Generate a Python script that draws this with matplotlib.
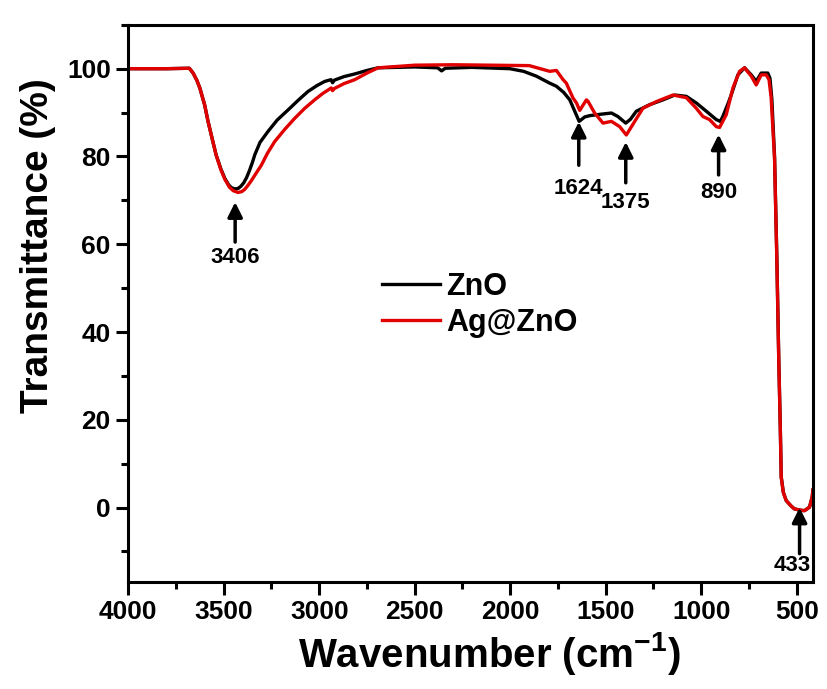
import matplotlib
matplotlib.use("Agg")
import matplotlib.pyplot as plt
from matplotlib.ticker import MultipleLocator

plt.rcParams['font.family'] = ['Liberation Sans', 'DejaVu Sans']
plt.rcParams['font.weight'] = 'bold'
plt.rcParams['mathtext.fontset'] = 'custom'
plt.rcParams['mathtext.rm'] = 'Liberation Sans:bold'
plt.rcParams['mathtext.bf'] = 'Liberation Sans:bold'

# ZnO spectrum (wavenumber, transmittance)
zno_wn = [4000, 3800, 3680, 3660, 3640, 3625, 3600, 3582, 3560, 3540, 3515, 3494,
          3475, 3460, 3442, 3425, 3410, 3395, 3380, 3365, 3350, 3337, 3310, 3268,
          3220, 3163, 3110, 3059, 3010, 2971, 2938, 2930, 2920, 2870, 2814, 2750,
          2692, 2500, 2380, 2359, 2340, 2200, 2002, 1930, 1863, 1793, 1758, 1720,
          1688, 1662, 1639, 1610, 1584, 1531, 1470, 1436, 1395, 1370, 1340, 1270,
          1200, 1139, 1078, 1026, 973, 921, 900, 887, 860, 843, 808, 773, 738,
          712, 686, 651, 640, 630, 616, 604, 594, 586, 581, 570, 555, 530, 512,
          480, 459, 433, 419, 415]
zno_t = [100.0, 100.0, 100.1, 99.0, 97.3, 95.6, 91.8, 88.0, 84.0, 80.4, 77.2, 75.0,
         73.6, 72.9, 72.6, 72.7, 73.2, 74.0, 75.2, 76.8, 78.6, 80.4, 83.2, 85.7,
         88.3, 90.6, 92.8, 94.8, 96.2, 97.1, 97.5, 96.8, 97.4, 98.2, 98.8, 99.6,
         100.2, 100.4, 100.2, 99.5, 100.1, 100.3, 100.0, 99.4, 98.3, 96.7, 96.0, 94.6,
         92.9, 90.3, 88.0, 89.0, 89.3, 89.6, 89.9, 89.1, 87.6, 88.5, 90.3, 91.8,
         92.9, 94.0, 93.7, 92.2, 90.3, 88.4, 88.0, 89.1, 92.0, 94.0, 98.6, 100.2, 98.6,
         97.1, 99.0, 99.0, 97.8, 93.0, 80.0, 57.0, 34.0, 18.5, 7.0, 3.5, 1.6, 0.4, -0.3,
         -0.6, -0.7, 0.1, 2.4, 4.0]

# Ag@ZnO spectrum
ag_wn = [4000, 3800, 3680, 3660, 3640, 3625, 3600, 3582, 3560, 3540, 3515, 3494,
         3470, 3450, 3425, 3405, 3390, 3375, 3355, 3330, 3303, 3270, 3233, 3180,
         3128, 3075, 3024, 2980, 2937, 2930, 2920, 2870, 2814, 2750, 2692, 2500,
         2300, 2100, 1900, 1793, 1758, 1723, 1706, 1671, 1653, 1636, 1601, 1593,
         1558, 1514, 1470, 1427, 1392, 1348, 1305, 1235, 1148, 1078, 1026,
         991, 956, 921, 904, 869, 834, 799, 773, 738, 712, 686, 660, 645, 634,
         616, 604, 594, 586, 581, 570, 555, 530, 512, 480, 459, 433, 419, 415]
ag_t = [100.0, 100.0, 100.1, 99.0, 97.3, 95.6, 91.8, 88.0, 84.0, 80.4, 77.0, 74.8,
        73.0, 72.2, 71.8, 72.0, 72.5, 73.3, 74.5, 76.2, 78.0, 80.8, 83.4, 86.2,
        88.7, 91.0, 92.9, 94.4, 95.6, 95.0, 95.5, 96.6, 97.5, 99.0, 100.2, 100.8,
        100.9, 100.8, 100.7, 99.4, 99.6, 97.5, 96.7, 93.3, 92.2, 90.5, 92.9, 92.6,
        89.9, 87.6, 88.0, 86.8, 84.9, 88.0, 91.0, 92.5, 94.0, 93.4, 91.0,
        89.1, 88.4, 86.8, 86.6, 89.5, 95.6, 99.4, 100.2, 98.3, 96.3, 98.6, 98.6, 97.5, 93.5,
        79.5, 56.4, 33.6, 18.3, 6.9, 3.4, 1.6, 0.4, -0.3, -0.6, -0.7, 0.1, 2.4, 4.0]

# peak markers: label, arrow x, arrow head y, arrow tail y, label x, label y
peak_labels = ['3406', '1624', '1375', '890', '433']
peak_x = [3440, 1641, 1395, 909, 485]
peak_head = [69.6, 87.9, 83.3, 85.0, 0.0]
peak_tail = [60.5, 78.0, 74.0, 75.8, -10.5]
label_x = [3440, 1641, 1395, 909, 522]
label_y = [57.0, 72.8, 69.4, 71.7, -13.2]

fig = plt.figure(figsize=(8.27, 6.89), dpi=100)
ax = fig.add_axes([0.155, 0.155, 0.828, 0.809])

ax.plot(zno_wn, zno_t, color='black', lw=2.4, label='ZnO')
ax.plot(ag_wn, ag_t, color='#e00000', lw=2.4, label='Ag@ZnO')

for lab, px, hy, ty, lx, ly in zip(peak_labels, peak_x, peak_head, peak_tail, label_x, label_y):
    ax.annotate('', xy=(px, hy), xytext=(px, ty),
                arrowprops=dict(arrowstyle='-|>', lw=2.5, color='black', mutation_scale=22,
                                shrinkA=0, shrinkB=0))
    ax.text(lx, ly, lab, ha='center', va='center', fontsize=16, fontweight='bold')

ax.set_xlim(4000, 415)
ax.set_ylim(-17, 110)
ax.xaxis.set_major_locator(MultipleLocator(500))
ax.xaxis.set_minor_locator(MultipleLocator(250))
ax.yaxis.set_major_locator(MultipleLocator(20))
ax.yaxis.set_minor_locator(MultipleLocator(10))
ax.tick_params(which='major', direction='out', length=9, width=2.2, labelsize=19)
ax.tick_params(which='minor', direction='out', length=5, width=2.2)
for lbl in ax.get_xticklabels() + ax.get_yticklabels():
    lbl.set_fontweight('bold')
for sp in ax.spines.values():
    sp.set_linewidth(2.2)

ax.set_xlabel('Wavenumber (cm$^{\\mathrm{-1}}$)', fontsize=29, fontweight='bold')
ax.set_ylabel('Transmittance (%)', fontsize=28, fontweight='bold')
ax.xaxis.set_label_coords(0.528, -0.085)
ax.yaxis.set_label_coords(-0.105, 0.603)

leg = ax.legend(loc='upper left', bbox_to_anchor=(0.371, 0.557), frameon=False,
                fontsize=22, handlelength=1.9, handletextpad=0.2, labelspacing=0.2,
                borderpad=0, borderaxespad=0)
for t in leg.get_texts():
    t.set_fontweight('bold')

fig.savefig('out.png', dpi=100)
